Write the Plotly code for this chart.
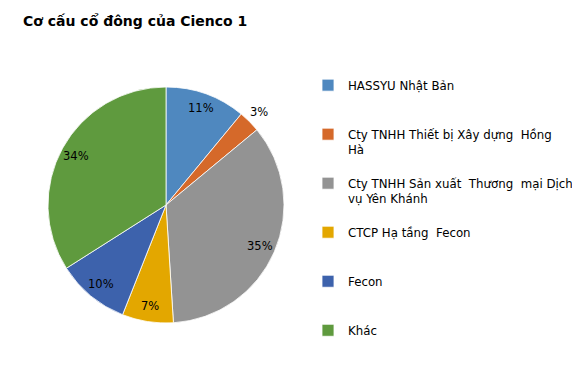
import math
import plotly.graph_objects as go

labels = [
    "HASSYU Nhật Bản",
    "Cty TNHH Thiết bị Xây dựng  Hồng<br>Hà",
    "Cty TNHH Sản xuất  Thương  mại Dịch<br>vụ Yên Khánh",
    "CTCP Hạ tầng  Fecon",
    "Fecon",
    "Khác",
]
values = [11, 3, 35, 7, 10, 34]
colors = ["#4F88BF", "#D5692A", "#939393", "#E3A700", "#3D62AC", "#5F9A3E"]
label_outside = [False, True, False, False, False, False]

W, H = 572, 375
CX, CY, R = 166, 205, 118  # pie centre / radius in pixels


def pad(lbl, lines=3):
    n = lbl.count("<br>") + 1
    return lbl + "<br> " * (lines - n)


fig = go.Figure(go.Pie(
    labels=[pad(l) for l in labels],
    values=values,
    sort=False,
    direction="clockwise",
    rotation=0,
    marker=dict(colors=colors, line=dict(color="white", width=0.8)),
    textinfo="none",
    domain=dict(x=[(CX - R) / W, (CX + R) / W],
                y=[1 - (CY + R) / H, 1 - (CY - R) / H]),
    hoverinfo="label+percent",
))

# percentage labels placed along each slice's bisector
total = sum(values)
cum = 0
for v, out in zip(values, label_outside):
    mid = (cum + v / 2) / total * 2 * math.pi
    cum += v
    rf = 1.11 if out else 0.87
    px = CX + math.sin(mid) * R * rf
    py = CY - math.cos(mid) * R * rf
    fig.add_annotation(
        x=px / W, y=1 - py / H, xref="paper", yref="paper",
        text=f"{round(v / total * 100)}%", showarrow=False,
        xanchor="center", yanchor="middle",
        font=dict(family="DejaVu Sans", size=11.5, color="#000000"),
    )

fig.update_layout(
    width=W, height=H,
    margin=dict(l=0, r=0, t=0, b=0, autoexpand=False),
    paper_bgcolor="white",
    plot_bgcolor="white",
    font=dict(family="DejaVu Sans", size=11.8, color="#000000"),
    title=dict(
        text="<b>Cơ cấu cổ đông của Cienco 1</b>",
        x=23 / W, xanchor="left", y=1 - 21 / H, yanchor="middle",
        font=dict(family="DejaVu Sans", size=14, color="#000000"),
    ),
    legend=dict(
        x=308 / W, xanchor="left", y=1 - 71 / H, yanchor="top",
        valign="top",
        font=dict(family="DejaVu Sans", size=11.8, color="#000000"),
        itemwidth=30,
        bgcolor="rgba(0,0,0,0)",
    ),
    showlegend=True,
)

fig.write_html("out.html")
